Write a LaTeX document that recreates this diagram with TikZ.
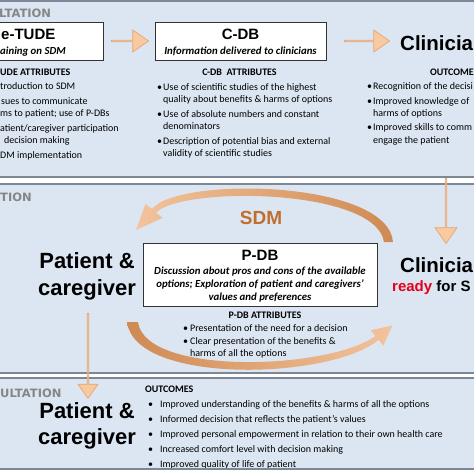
\documentclass[tikz,border=0pt]{standalone}
\usepackage{fontspec}
\setmainfont{Carlito}
\newfontfamily\arialf{Liberation Sans}
\newfontfamily\verdf{DejaVu Sans}
\usetikzlibrary{shapes.arrows}
\definecolor{panelfill}{HTML}{DCE6F2}
\definecolor{panelline}{HTML}{7D8796}
\definecolor{graylbl}{HTML}{868686}
\definecolor{arrowfill}{HTML}{F9C9A0}
\definecolor{arrowedge}{HTML}{E5A673}
\definecolor{curvedark}{HTML}{CF8A52}
\definecolor{curvelight}{HTML}{F3C39C}
\definecolor{sdmcol}{HTML}{BF6F2D}
\definecolor{readyred}{HTML}{E3001B}
\newcommand\mybul[1]{\makebox[#1][l]{\textbullet}}
\begin{document}
\begin{tikzpicture}[x=1pt,y=-1pt,
  panel/.style={fill=panelfill,draw=panelline,line width=1.4pt},
  box/.style={draw=black!80,fill=white,line width=0.9pt,inner sep=0pt,anchor=north west},
  body/.style={font=\fontsize{10}{12}\selectfont,inner sep=0pt,anchor=base west},
  hdr/.style={font=\fontsize{10}{12}\selectfont\bfseries,inner sep=0pt,anchor=base west},
  ital/.style={font=\fontsize{10.8}{12}\selectfont\bfseries\itshape,inner sep=0pt,anchor=base},
  big/.style={font=\arialf\bfseries\fontsize{22}{26}\selectfont,inner sep=0pt,anchor=base},
  clin/.style={font=\arialf\bfseries\fontsize{20.5}{24}\selectfont,inner sep=0pt,anchor=base west},
  title/.style={font=\arialf\bfseries\fontsize{15}{17}\selectfont,inner sep=0pt,anchor=base},
  grayl/.style={font=\verdf\bfseries\fontsize{11.5}{13}\selectfont,text=graylbl,inner sep=0pt,anchor=base west},
  blockarr/.style={single arrow,draw=arrowedge,fill=arrowfill,line width=0.7pt,inner sep=0pt,
    single arrow head extend=5pt,single arrow tip angle=70}]
\useasboundingbox (0,0) rectangle (474,474);
\clip (0,0) rectangle (474,474);
\fill[white] (0,0) rectangle (474,474);
% panels
\draw[panel] (-5,1) rectangle (480,177);
\draw[panel] (-5,184) rectangle (480,373);
\draw[panel] (-5,378) rectangle (480,469);

% ---------- panel 1 ----------
\node[grayl] (g1) at (-1,17) {LTATION};
\node[box,minimum width=113pt,minimum height=38pt] (etude) at (-10,22) {};
\node[title,anchor=base west] (etudet) at (1,39) {e-TUDE};
\node[ital,anchor=base west] (etudes) at (0,54) {aining on SDM};
\node[box,minimum width=171pt,minimum height=38pt] (cdb) at (155,22) {};
\node[title] (cdbt) at (240.5,39) {C-DB};
\node[ital] (cdbs) at (240.5,54) {Information delivered to clinicians};
\node[clin] (clin1) at (400,50) {Clinicia};
\node[blockarr,minimum height=37pt,minimum width=22pt] (a1) at (129.5,41) {};
\node[blockarr,minimum height=45pt,minimum width=22pt] (a2) at (366.5,41) {};

\node[hdr] (lh) at (0,75) {UDE ATTRIBUTES};
\node[body] (l1) at (0,89) {troduction to SDM};
\node[body] (l2) at (1,104) {sues to communicate};
\node[body] (l3) at (0,116) {ms to patient; use of P-DBs};
\node[body] (l4) at (0,131) {atient/caregiver participation};
\node[body] (l5) at (4,143) {decision making};
\node[body] (l6) at (0,158) {DM implementation};

\node[hdr,anchor=base] (ch) at (239.5,75) {C-DB\ \ ATTRIBUTES};
\node[body] (c1) at (157,90) {\mybul{6pt}Use of scientific studies of the highest};
\node[body] (c2) at (163,102) {quality about benefits \& harms of options};
\node[body] (c3) at (157,117) {\mybul{6pt}Use of absolute numbers and constant};
\node[body] (c4) at (163,129) {denominators};
\node[body] (c5) at (157,144) {\mybul{6pt}Description of potential bias and external};
\node[body] (c6) at (163,156) {validity of scientific studies};

\node[hdr] (rh) at (430,75) {OUTCOME};
\node[body] (r1) at (367,89) {\mybul{6pt}Recognition of the decisi};
\node[body] (r2) at (367,104) {\mybul{6pt}Improved knowledge of};
\node[body] (r3) at (373,116) {harms of options};
\node[body] (r4) at (367,130) {\mybul{6pt}Improved skills to comm};
\node[body] (r5) at (373,143) {engage the patient};

% ---------- panel 2 ----------
\node[grayl] (g2) at (0,201) {TION};
% top curved arrow
\shade[left color=curvelight,right color=curvedark]
  (393,242) .. controls (388,180) and (178,176) .. (152,209)
  -- (145.5,204) -- (136,230) -- (162.5,218) -- (156,212.6)
  .. controls (182,186) and (376,188) .. (384,242) -- cycle;
\node[font=\arialf\bfseries\fontsize{19}{22}\selectfont,text=sdmcol,inner sep=0pt,anchor=base] (sdm) at (261,224) {SDM};
\node[box,minimum width=234pt,minimum height=63pt] (pdb) at (143,243) {};
\node[title] (pdbt) at (260,260) {P-DB};
\node[ital] (pdb1) at (260,274) {Discussion about pros and cons of the available};
\node[ital] (pdb2) at (260,287) {options; Exploration of patient and caregivers'};
\node[ital] (pdb3) at (260,300) {values and preferences};
\node[big] (pat2a) at (87,268) {Patient \&};
\node[big] (pat2b) at (87,295) {caregiver};
\node[clin] (clin2) at (400,272) {Clinicia};
\node[font=\arialf\bfseries\fontsize{15}{18}\selectfont,inner sep=0pt,anchor=base west] (ready) at (392,291) {\textcolor{readyred}{ready} for S};
\node[hdr,anchor=base] (ph) at (265,318) {P-DB ATTRIBUTES};
\node[body] (p1) at (183,331) {\mybul{7pt}Presentation of the need for a decision};
\node[body] (p2) at (183,344) {\mybul{7pt}Clear presentation of the benefits \&};
\node[body] (p3) at (190,356) {harms of all the options};
% bottom curved arrow
\shade[left color=curvedark,right color=curvelight]
  (127,322) .. controls (135,385) and (330,380) .. (378.6,339.9)
  -- (383.3,345.7) -- (392.4,325.4) -- (370.7,330.3) -- (375.4,336.1)
  .. controls (328,370) and (145,376) .. (138,322) -- cycle;
% vertical arrows
\node[blockarr,minimum height=65pt,minimum width=22pt,shape border rotate=270] (a3) at (446,210.5) {};
\node[blockarr,minimum height=85pt,minimum width=20pt,shape border rotate=270] (a4) at (88,355.5) {};

% ---------- panel 3 ----------
\node[grayl] (g3) at (0,397) {ULTATION};
\node[big] (pat3a) at (87,418) {Patient \&};
\node[big] (pat3b) at (87,444) {caregiver};
\node[hdr] (oh) at (145,392) {OUTCOMES};
\node[body] (o1) at (148,407) {\mybul{12pt}Improved understanding of the benefits \& harms of all the options};
\node[body] (o2) at (148,422) {\mybul{12pt}Informed decision that reflects the patient’s values};
\node[body] (o3) at (148,437) {\mybul{12pt}Improved personal empowerment in relation to their own health care};
\node[body] (o4) at (148,452) {\mybul{12pt}Increased comfort level with decision making};
\node[body] (o5) at (148,467) {\mybul{12pt}Improved quality of life of patient};
\draw[panelline,line width=1.4pt] (-5,469) -- (480,469);
\end{tikzpicture}
\end{document}
